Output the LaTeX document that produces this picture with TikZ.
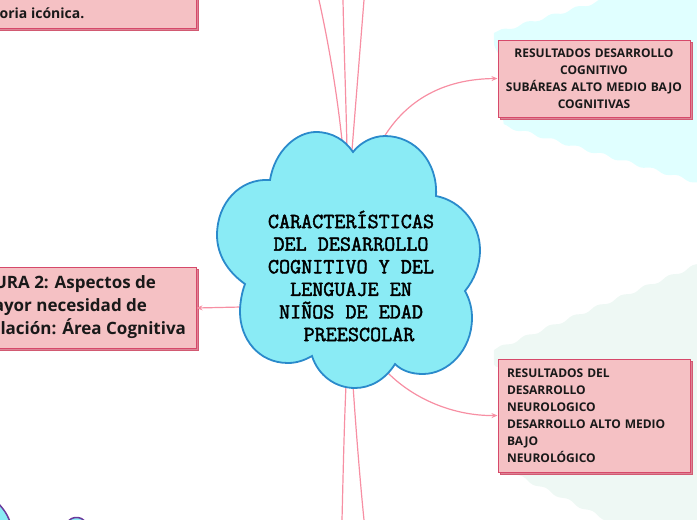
\documentclass[tikz,border=0pt]{standalone}
\usepackage{fontspec}
\setmainfont{Open Sans}
\newfontfamily\monobold[FakeBold=2]{Latin Modern Mono}
\usetikzlibrary{shadows,decorations.pathmorphing,arrows.meta}
\definecolor{boxfill}{HTML}{F5C1C4}
\definecolor{boxline}{HTML}{D6496A}
\definecolor{boxshade}{HTML}{D25A72}
\definecolor{linkpink}{HTML}{F78FA3}
\definecolor{cloudfill}{HTML}{8AEBF5}
\definecolor{cloudline}{HTML}{2A8ACB}
\definecolor{bluezone}{HTML}{E0FFFF}
\definecolor{greenzone}{HTML}{EEF8F4}
\definecolor{purpleline}{HTML}{6A3A9C}
\begin{document}
\begin{tikzpicture}[x=1pt, y=-1pt, >={Stealth[length=6pt, width=5pt]},
					link/.style={draw=linkpink, line width=1.2pt},
					bag/.style={rectangle, draw=boxline, fill=boxfill, line width=1pt, text=black!90, inner sep=0pt,
						copy shadow={shadow xshift=2.5pt, shadow yshift=-2.5pt, draw=boxshade, fill=boxshade!75!white}},
					small bag/.style={bag, font=\fontsize{12}{17}\selectfont\bfseries, minimum width=192pt},
					big bag/.style={bag, font=\fontsize{17}{23}\selectfont\bfseries, minimum width=256pt, text width=236pt, align=flush right},
					piece/.style={font=\fontsize{14}{20}\selectfont\bfseries, text=black!90, inner sep=0pt},
					zone/.style={decorate, decoration={snake, segment length=26pt, amplitude=1.5pt}}]
\useasboundingbox (0,0) rectangle (697,520);
\clip (0,0) rectangle (697,520);
\fill[bluezone, zone] (494,33) -- (613,-3) -- (720,-3) -- (720,190) -- (697,183) -- (493,123) -- cycle;
\fill[greenzone, zone] (494,350) -- (697,265) -- (720,255) -- (720,530) -- (600,530) -- (493,477) -- cycle;

\coordinate (top a) at (319,0);
\coordinate (top b) at (343,0);
\coordinate (top c) at (364,0);
\coordinate (bottom a) at (342,520);
\coordinate (bottom b) at (364,520);
\coordinate (cloud a) at (343,150);
\coordinate (cloud b) at (347,150);
\coordinate (cloud c) at (352,150);
\coordinate (cloud d) at (384,137);
\coordinate (cloud e) at (241,307);
\coordinate (cloud f) at (388,373);
\coordinate (cloud g) at (346,385);
\coordinate (cloud h) at (353,385);

\node[small bag, align=center, text width=186pt, minimum height=77pt] (resultados cognitivo) at (594,78.5)
	{RESULTADOS DESARROLLO\\COGNITIVO\\SUBÁREAS ALTO MEDIO BAJO\\COGNITIVAS};
\node[small bag, align=left, text width=174pt, minimum height=113pt] (resultados neuro) at (594,415.5)
	{RESULTADOS DEL\\DESARROLLO\\NEUROLOGICO\\DESARROLLO ALTO MEDIO\\BAJO\\NEUROLÓGICO};
\node[big bag, minimum height=81pt] (figura) at (68,307.5)
	{URA 2: Aspectos de\hspace*{30pt}\mbox{}\\ayor necesidad de\hspace*{39pt}\mbox{}\\lación: Área Cognitiva};
\node[big bag, minimum height=56pt] (memoria) at (68,0) {};
\node[piece, anchor=base west] (memoria texto) at (-0.5,18) {oria icónica.};

\draw[link] (top a) .. controls (330,50) and (338,100) .. (cloud a);
\draw[link] (top b) .. controls (344,50) and (346,100) .. (cloud b);
\draw[link] (top c) .. controls (360,50) and (356,100) .. (cloud c);
\draw[link, ->] (cloud d) .. controls (410,95) and (450,79) .. (resultados cognitivo.west);
\draw[link, ->] (cloud e) -- (figura.east |- 0,308);
\draw[link, ->] (cloud f) .. controls (415,400) and (455,416) .. (resultados neuro.west);
\draw[link] (cloud g) .. controls (344,430) and (343,480) .. (bottom a);
\draw[link] (cloud h) .. controls (356,430) and (360,480) .. (bottom b);

\path[draw=cloudline, fill=cloudfill, line width=1.8pt]
	(270,180) .. controls (275,150) and (297,132) .. (316,132)
	.. controls (332,132) and (345,140) .. (353,152)
	.. controls (360,143) and (372,136) .. (385,136)
	.. controls (415,136) and (438,162) .. (436,196)
	.. controls (462,201) and (480,225) .. (480,250)
	.. controls (480,266) and (474,280) .. (465,291)
	.. controls (470,300) and (472,309) .. (472,318)
	.. controls (472,350) and (448,374) .. (423,374)
	.. controls (412,374) and (402,371) .. (395,364)
	.. controls (385,380) and (370,388) .. (355,388)
	.. controls (335,388) and (318,375) .. (312,356)
	.. controls (305,360) and (297,363) .. (288,363)
	.. controls (258,363) and (240,338) .. (240,312)
	.. controls (240,302) and (242,292) .. (245,284)
	.. controls (228,272) and (217,255) .. (217,235)
	.. controls (217,203) and (240,178) .. (270,180) -- cycle;
\node[font=\fontsize{21.5}{22.6}\selectfont\monobold, align=center] (centro) at (351,276)
	{CARACTERÍSTICAS\\DEL DESARROLLO\\COGNITIVO Y DEL\\LENGUAJE EN\\NIÑOS DE EDAD\\\hspace*{16pt}PREESCOLAR};

\path[draw=purpleline, fill=cloudfill, line width=1.5pt] (-5,500) .. controls (2,507) and (7,513) .. (10,522) -- (-5,522) -- cycle;
\path[draw=purpleline, fill=cloudfill, line width=1.5pt] (68,522) .. controls (71,516) and (82,516) .. (85,522) -- cycle;
\end{tikzpicture}
\end{document}
